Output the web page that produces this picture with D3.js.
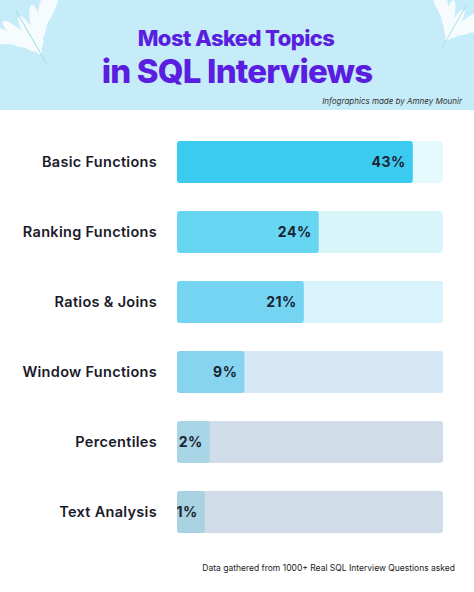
<!DOCTYPE html>
<html><head><meta charset="utf-8">
<script src="https://cdn.jsdelivr.net/npm/d3@7"></script>
<style>body{margin:0;background:#fff}svg{display:block}</style>
</head><body>
<script>
const categories = ["Basic Functions","Ranking Functions","Ratios & Joins","Window Functions","Percentiles","Text Analysis"];
const values = [43,24,21,9,2,1];
const labels = ["43%","24%","21%","9%","2%","1%"];
const fills = ["#3ccbf0","#66d6f2","#74d4f2","#86d4f0","#a8d6e6","#a8d1e2"];
const tracks = ["#e5fafd","#d8f6fa","#d8f3fb","#d6e8f6","#d0dce8","#d0dce8"];

const W=474,H=592;
const svg=d3.select("body").append("svg").attr("width",W).attr("height",H);
svg.append("rect").attr("width",W).attr("height",110).attr("fill","#c5ecf8");
// decorative leaves
function leaf(g,cx,cy,rot,s){
  const gg=g.append("g").attr("transform",`translate(${cx},${cy}) rotate(${rot}) scale(${s})`).attr("opacity",0.85);
  for(let i=-3;i<=3;i++){
    gg.append("ellipse").attr("cx",i*9).attr("cy",-Math.abs(i)*4).attr("rx",5).attr("ry",20)
      .attr("transform",`rotate(${i*18},${i*9},${-Math.abs(i)*4})`).attr("fill","#fff");
  }
  gg.append("line").attr("x1",0).attr("y1",30).attr("x2",0).attr("y2",-25).attr("stroke","#9fe0e6").attr("stroke-width",1);
}
leaf(svg,30,35,-30,1.1);leaf(svg,455,25,30,0.9);

svg.append("text").attr("x",236).attr("y",46).attr("text-anchor","middle")
  .attr("font-family","Inter").attr("font-weight",800).attr("font-size",22).attr("letter-spacing",-0.6)
  .attr("fill","#5a1ee0").text("Most Asked Topics");
svg.append("text").attr("x",237).attr("y",83).attr("text-anchor","middle")
  .attr("font-family","Inter").attr("font-weight",800).attr("font-size",33).attr("letter-spacing",-0.8)
  .attr("fill","#5a1ee0").text("in SQL Interviews");
svg.append("text").attr("x",462).attr("y",104).attr("text-anchor","end")
  .attr("font-family","Inter").attr("font-style","italic").attr("font-size",8).attr("fill","#333")
  .text("Infographics made by Amney Mounir");

const y=d3.scalePoint().domain(categories).range([162,512]);
const x=d3.scaleLinear().domain([-4.6,49.1]).range([177,443]);
const bh=42;
const rows=svg.selectAll("g.row").data(categories).join("g").attr("class","row");
rows.append("rect").attr("x",x(-4.6)).attr("y",d=>y(d)-bh/2).attr("width",x(49.1)-x(-4.6)).attr("height",bh)
  .attr("rx",3).attr("fill",(d,i)=>tracks[i]);
rows.append("rect").attr("x",x(-4.6)).attr("y",d=>y(d)-bh/2).attr("width",(d,i)=>x(values[i])-x(-4.6)).attr("height",bh)
  .attr("rx",3).attr("fill",(d,i)=>fills[i]);
rows.append("text").attr("x",(d,i)=>x(values[i])-7).attr("y",d=>y(d)+5).attr("text-anchor","end")
  .attr("font-family","Inter").attr("font-weight",700).attr("font-size",14).attr("letter-spacing",0.5)
  .attr("fill","#1a2433").text((d,i)=>labels[i]);
rows.append("text").attr("x",157).attr("y",d=>y(d)+5).attr("text-anchor","end")
  .attr("font-family","Inter").attr("font-weight",600).attr("font-size",14.5).attr("letter-spacing",0.3)
  .attr("fill","#1a1a2a").text(d=>d);
svg.append("text").attr("x",455).attr("y",571).attr("text-anchor","end")
  .attr("font-family","Inter").attr("font-size",8.5).attr("fill","#222")
  .text("Data gathered from 1000+ Real SQL Interview Questions asked");
</script>
</body></html>
